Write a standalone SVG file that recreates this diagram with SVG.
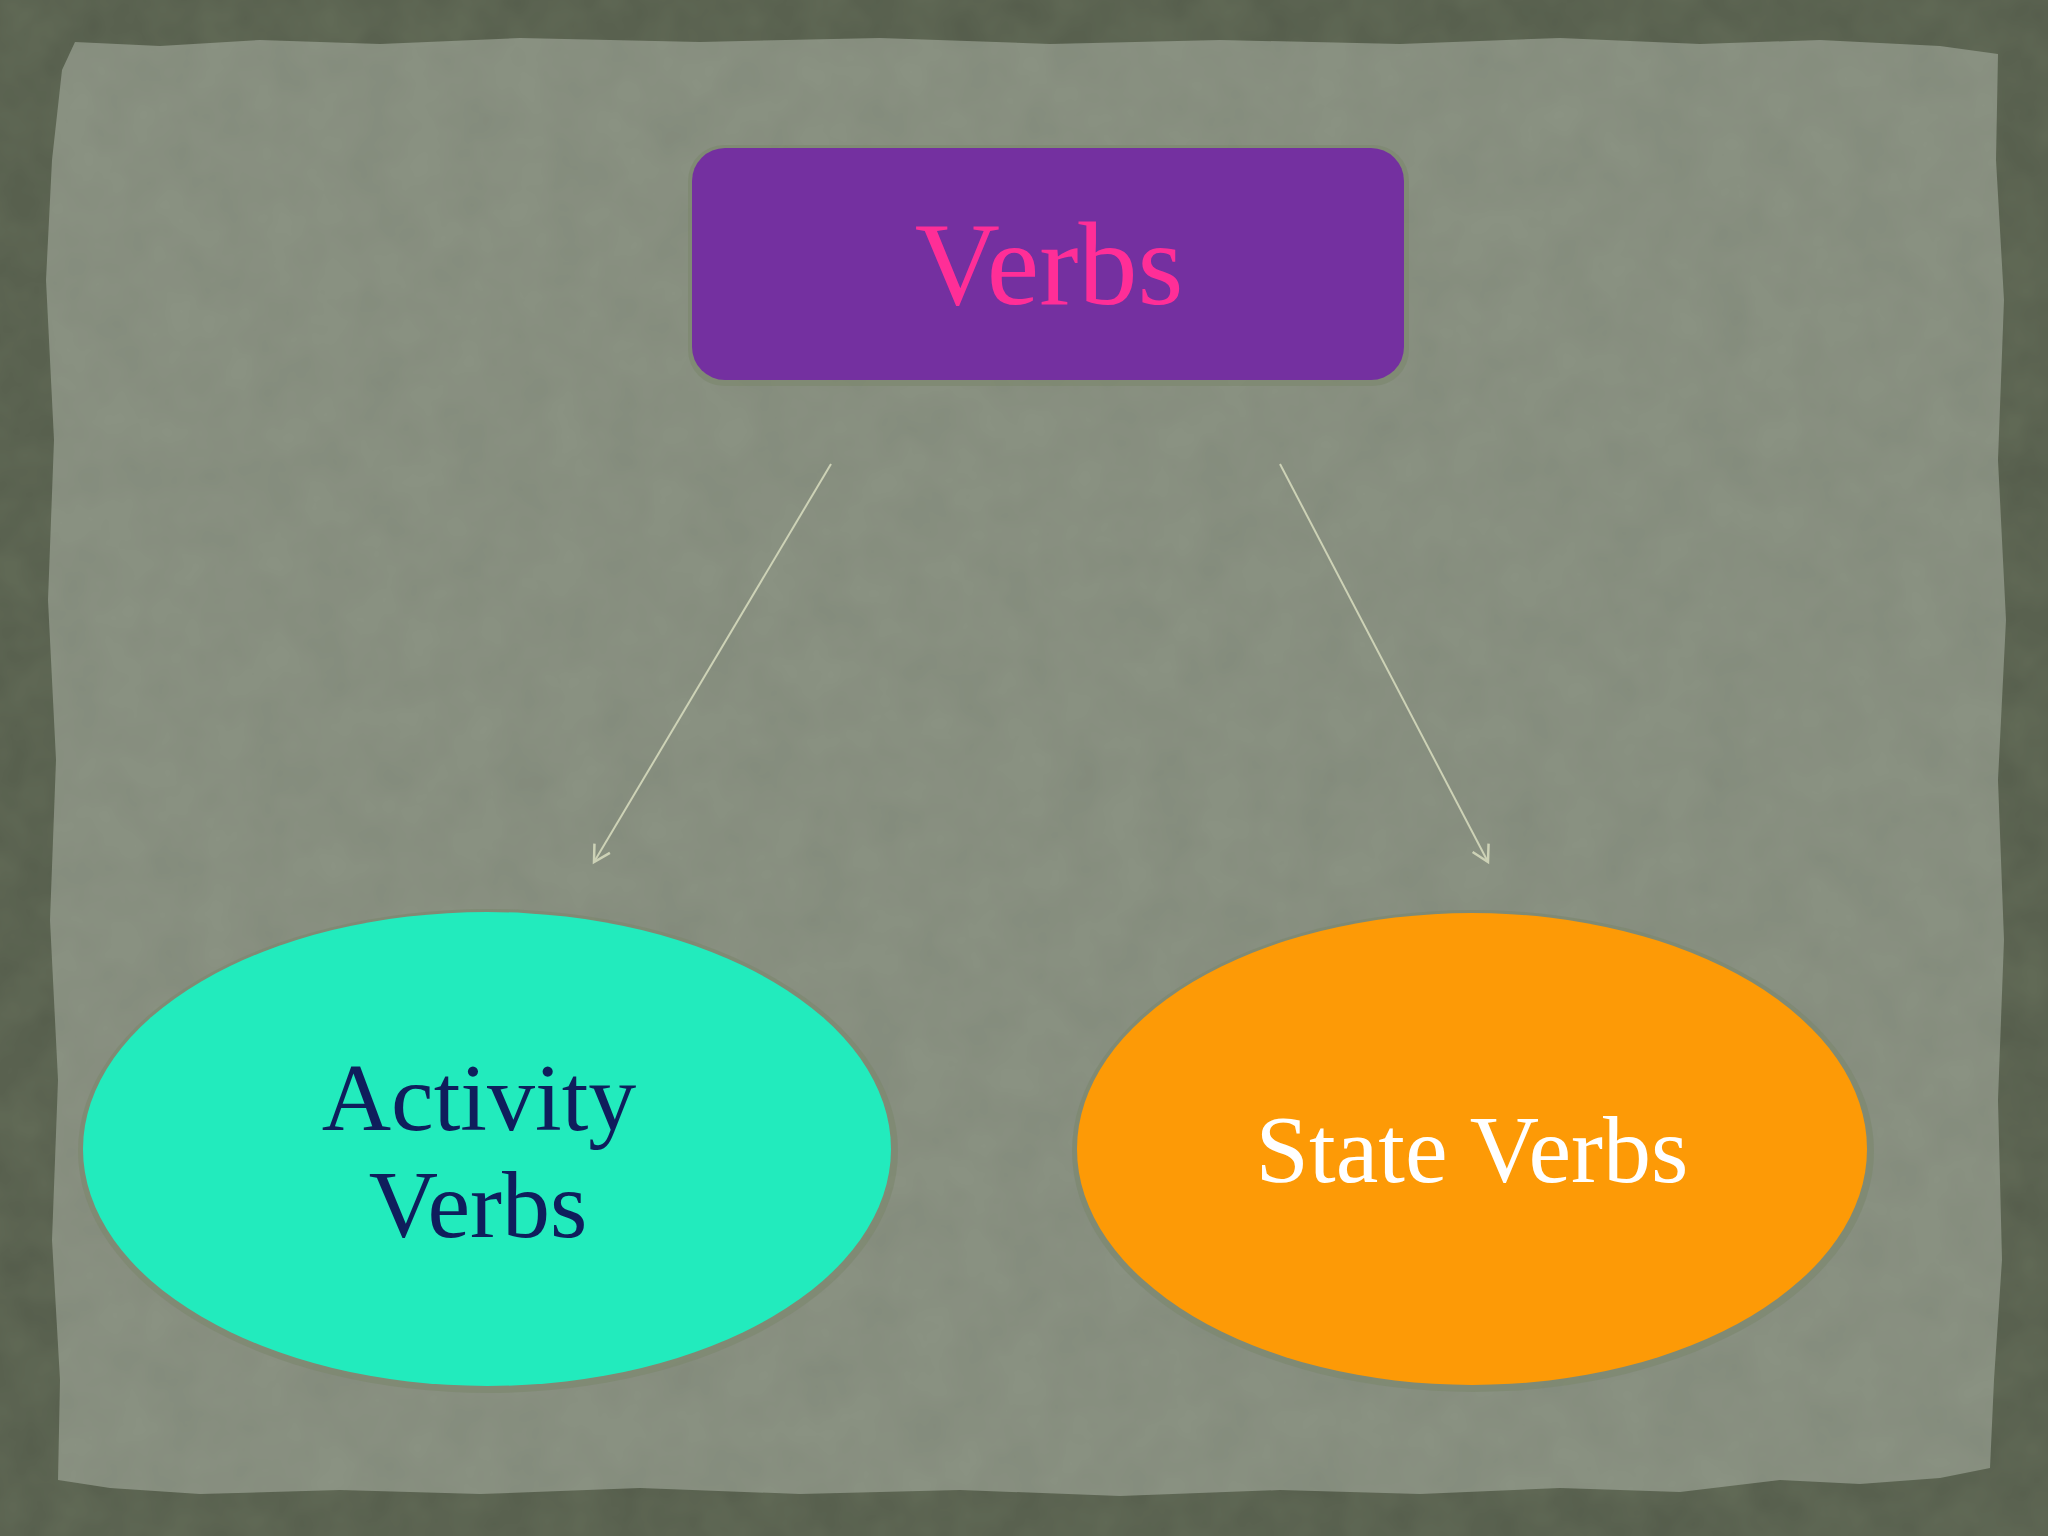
<svg xmlns="http://www.w3.org/2000/svg" width="2048" height="1536" viewBox="0 0 2048 1536">
<style>
.node-shadow{fill:#7e8870;opacity:0.75;}
.lbl{font-family:"Liberation Serif","DejaVu Serif",serif;text-anchor:middle;}
.conn{stroke:#cdd2b6;stroke-width:2;fill:none;}
</style>
<defs>
<marker id="arrow" markerWidth="24" markerHeight="24" refX="20" refY="12" orient="auto" markerUnits="userSpaceOnUse">
<path d="M4,3 L20,12 L4,21" fill="none" stroke="#cdd2b6" stroke-width="2.5"/>
</marker>
<filter id="noise" x="0" y="0" width="100%" height="100%">
<feTurbulence type="fractalNoise" baseFrequency="0.02" numOctaves="3" seed="4" result="n"/>
<feColorMatrix in="n" type="matrix" values="0 0 0 0 0  0 0 0 0 0  0 0 0 0 0  0 0 0 0.25 0" result="a"/>
<feComposite in="a" in2="SourceGraphic" operator="in"/>
</filter>
</defs>
<g id="background">
<rect x="0" y="0" width="2048" height="1536" fill="#636c58"/>
<rect x="0" y="0" width="2048" height="1536" fill="#000" filter="url(#noise)" opacity="0.6"/>
<path d="M75,42 L160,46 L260,40 L380,44 L520,38 L700,42 L880,38 L1050,44 L1220,40 L1400,44 L1560,38 L1700,44 L1820,40 L1940,46 L1998,54 L1996,160 L2004,300 L1998,460 L2006,620 L1998,780 L2004,940 L1998,1100 L2002,1260 L1994,1380 L1990,1468 L1940,1478 L1860,1484 L1780,1480 L1680,1492 L1560,1488 L1420,1494 L1280,1490 L1120,1496 L960,1490 L800,1494 L640,1488 L480,1494 L340,1490 L200,1494 L110,1488 L58,1480 L60,1380 L52,1240 L58,1080 L50,920 L56,760 L48,600 L54,440 L46,280 L52,160 L62,70 Z" fill="#8c9484"/>
<path d="M75,42 L160,46 L260,40 L380,44 L520,38 L700,42 L880,38 L1050,44 L1220,40 L1400,44 L1560,38 L1700,44 L1820,40 L1940,46 L1998,54 L1996,160 L2004,300 L1998,460 L2006,620 L1998,780 L2004,940 L1998,1100 L2002,1260 L1994,1380 L1990,1468 L1940,1478 L1860,1484 L1780,1480 L1680,1492 L1560,1488 L1420,1494 L1280,1490 L1120,1496 L960,1490 L800,1494 L640,1488 L480,1494 L340,1490 L200,1494 L110,1488 L58,1480 L60,1380 L52,1240 L58,1080 L50,920 L56,760 L48,600 L54,440 L46,280 L52,160 L62,70 Z" fill="#000" filter="url(#noise)" opacity="0.25"/>
</g>
<g id="connectors">
<line class="conn" x1="831" y1="464" x2="594" y2="862" marker-end="url(#arrow)"/>
<line class="conn" x1="1280" y1="464" x2="1488" y2="862" marker-end="url(#arrow)"/>
</g>
<g id="node-verbs">
<rect class="node-shadow" x="688" y="145" width="721" height="241" rx="36"/>
<rect x="692" y="148" width="712" height="232" rx="33" fill="#7430a0"/>
<text class="lbl" x="1049" y="304" font-size="118" fill="#ff2e97">Verbs</text>
</g>
<g id="node-activity">
<ellipse class="node-shadow" cx="488" cy="1151" rx="410" ry="242"/>
<ellipse cx="487" cy="1149" rx="404" ry="237" fill="#22ebbd"/>
<text class="lbl" x="479" y="1130" font-size="96" fill="#0f1e5c">Activity</text>
<text class="lbl" x="478" y="1237" font-size="96" fill="#0f1e5c">Verbs</text>
</g>
<g id="node-state">
<ellipse class="node-shadow" cx="1473" cy="1151" rx="401" ry="241"/>
<ellipse cx="1472" cy="1149" rx="395" ry="236" fill="#fd9a06"/>
<text class="lbl" x="1472" y="1182" font-size="96" fill="#ffffff">State Verbs</text>
</g>
</svg>
